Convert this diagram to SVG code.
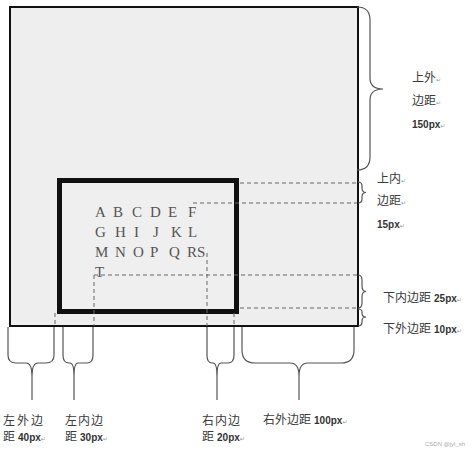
<svg xmlns="http://www.w3.org/2000/svg" width="474" height="452" viewBox="0 0 474 452">
<style>
.cjk{font-family:"Noto Sans CJK SC","Liberation Sans",sans-serif;font-size:12px;fill:#3a3a3a}
.num{font-family:"Liberation Sans",Arial,sans-serif;font-size:10px;font-weight:bold;fill:#333}
.ret{font-family:"DejaVu Sans",sans-serif;font-size:6px;fill:#999;font-weight:normal}
.letters{font-family:"Liberation Serif","Times New Roman",serif;font-size:15px;fill:#555}
.dash{fill:none;stroke:#666;stroke-width:1;stroke-dasharray:4 3}
.brace{fill:none;stroke:#555;stroke-width:1.2}
</style>
<rect width="474" height="452" fill="#ffffff"/>
<g id="outer-box">
<rect x="10" y="7" width="348" height="319" fill="#eeeeee" stroke="#111" stroke-width="2"/>
</g>
<g id="inner-box">
<rect x="59.5" y="180.5" width="177" height="131" fill="#efefef" stroke="#111" stroke-width="5"/>
<text class="letters" x="95 113 132 150 168 188" y="217">ABCDEF</text>
<text class="letters" x="95 115 134 153 171 188" y="237">GHIJKL</text>
<text class="letters" x="95 115 133 150 169 187 197" y="257">MNOPQRS</text>
<text class="letters" x="95" y="277">T</text>
</g>
<g id="connectors">
<path class="dash" d="M240,183 H357 M193,203 H357 M94,275 H357 M240,308 H357"/>
<path class="dash" d="M94,275 V326 M207,253 V326 M55,313 V326 M234,313 V326"/>
<path class="brace" d="M8,327 V355 Q8,363 16,363 H26 Q32,363 32,376 V400 M54,327 V355 Q54,363 46,363 H38 Q32,363 32,376"/>
<path class="brace" d="M63,327 V355 Q63,363 69,363 H70 Q74,363 74,376 V400 M93,327 V355 Q93,363 87,363 H78 Q74,363 74,376"/>
<path class="brace" d="M207,327 V355 Q207,363 212,363 H213 Q217,363 217,376 V400 M234,327 V355 Q234,363 228,363 H221 Q217,363 217,376"/>
<path class="brace" d="M242,327 V350 Q242,363 255,363 H290 Q299,363 299,376 V400 M354,327 V350 Q354,363 341,363 H308 Q299,363 299,376"/>
<path class="brace" d="M357,7 Q370,7 370,20 V78 Q370,89 383,89 Q370,89 370,100 V157 Q370,170 357,170"/>
<path class="brace" d="M358,182 Q362,182 362,186 V188 Q362,192.5 366,192.5 Q362,192.5 362,197 V199 Q362,203 358,203"/>
<path class="brace" d="M358,275 Q362,275 362,280 V286 Q362,291.5 366,291.5 Q362,291.5 362,297 V303 Q362,308 358,308"/>
<path class="brace" d="M358,309 Q362,309 362,312 V313 Q362,317 366,317 Q362,317 362,321 V322 Q362,326 358,326"/>
</g>
<g id="label-top-outer">
<text class="cjk" x="412" y="82">上外<tspan class="ret">↵</tspan></text>
<text class="cjk" x="412" y="105">边距<tspan class="ret">↵</tspan></text>
<text class="num" x="412" y="128">150px<tspan class="ret">↵</tspan></text>
</g>
<g id="label-top-inner">
<text class="cjk" x="377" y="183">上内<tspan class="ret">↵</tspan></text>
<text class="cjk" x="377" y="205">边距<tspan class="ret">↵</tspan></text>
<text class="num" x="377" y="228">15px<tspan class="ret">↵</tspan></text>
</g>
<g id="label-bottom-inner">
<text class="cjk" x="383" y="302">下内边距<tspan class="num" dx="3">25px</tspan><tspan class="ret">↵</tspan></text>
</g>
<g id="label-bottom-outer">
<text class="cjk" x="383" y="333">下外边距<tspan class="num" dx="3">10px</tspan><tspan class="ret">↵</tspan></text>
</g>
<g id="label-left-outer">
<text class="cjk" x="3" y="425" letter-spacing="2">左外边</text>
<text class="cjk" x="3" y="441">距<tspan class="num" dx="3">40px</tspan><tspan class="ret">↵</tspan></text>
</g>
<g id="label-left-inner">
<text class="cjk" x="65" y="425" letter-spacing="1">左内边</text>
<text class="cjk" x="65" y="441">距<tspan class="num" dx="3">30px</tspan><tspan class="ret">↵</tspan></text>
</g>
<g id="label-right-inner">
<text class="cjk" x="202" y="425" letter-spacing="1">右内边</text>
<text class="cjk" x="202" y="441">距<tspan class="num" dx="3">20px</tspan><tspan class="ret">↵</tspan></text>
</g>
<g id="label-right-outer">
<text class="cjk" x="263" y="424">右外边距<tspan class="num" dx="3">100px</tspan><tspan class="ret">↵</tspan></text>
</g>
<text x="425" y="446" font-family="Liberation Sans,Arial,sans-serif" font-size="6" fill="#aaa">CSDN @jyl_sh</text>
</svg>
